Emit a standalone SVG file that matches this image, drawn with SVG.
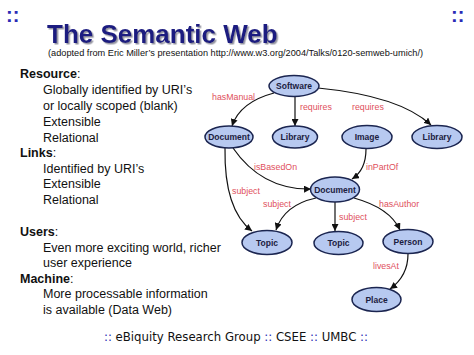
<svg xmlns="http://www.w3.org/2000/svg" width="474" height="355" viewBox="0 0 474 355">
<defs>
<marker id="ah" viewBox="0 0 10 10" refX="10" refY="5" markerWidth="7" markerHeight="7" markerUnits="userSpaceOnUse" orient="auto">
<path d="M0,0 L10,5 L0,10 z" fill="#111"/>
</marker>
<filter id="sh" x="-5%" y="-20%" width="115%" height="150%">
<feDropShadow dx="1.5" dy="1.5" stdDeviation="0.4" flood-color="#8a8a98" flood-opacity="0.9"/>
</filter>
</defs>
<style>
.dots{font-family:"Liberation Sans",Arial,sans-serif;font-weight:bold;font-size:20px;fill:#2a2ab5}
.title{font-family:"Liberation Sans",Arial,sans-serif;font-weight:bold;font-size:26px;fill:#1c1c80;filter:url(#sh)}
.sub{font-family:"Liberation Sans",Arial,sans-serif;font-size:8.6px;fill:#111}
.body{font-family:"Liberation Sans",Arial,sans-serif;font-size:12.5px;fill:#111}
.hd{font-weight:bold}
.foot{font-family:"DejaVu Sans",Verdana,sans-serif;font-size:11.5px;fill:#111}
.fc{fill:#2a2ab5}
.node ellipse{fill:#b7c9f0;stroke:#1b2550;stroke-width:1.5}
.node text{font-family:"Liberation Sans",Arial,sans-serif;font-weight:bold;font-size:8.5px;fill:#1b2040;text-anchor:middle}
.edge{fill:none;stroke:#111;stroke-width:1.2;marker-end:url(#ah)}
.lbl{font-family:"Liberation Sans",Arial,sans-serif;font-size:8.8px;fill:#e0505c}
</style>
<rect width="474" height="355" fill="#fff"/>
<text class="dots" x="6" y="22">::</text>
<text class="dots" x="451" y="22">::</text>
<text class="title" x="47" y="42.5">The Semantic Web</text>
<text class="sub" x="48" y="56" textLength="375" lengthAdjust="spacingAndGlyphs">(adopted from Eric Miller’s presentation http://www.w3.org/2004/Talks/0120-semweb-umich/)</text>
<g class="body">
<text x="20" y="78"><tspan class="hd">Resource</tspan>:</text>
<text x="43" y="94">Globally identified by URI’s</text>
<text x="43" y="110">or locally scoped (blank)</text>
<text x="43" y="126">Extensible</text>
<text x="43" y="141.5">Relational</text>
<text x="20" y="157"><tspan class="hd">Links</tspan>:</text>
<text x="43" y="172.5">Identified by URI’s</text>
<text x="43" y="188">Extensible</text>
<text x="43" y="204">Relational</text>
<text x="20" y="235.5"><tspan class="hd">Users</tspan>:</text>
<text x="43" y="251.5">Even more exciting world, richer</text>
<text x="43" y="267">user experience</text>
<text x="20" y="282.5"><tspan class="hd">Machine</tspan>:</text>
<text x="43" y="298">More processable information</text>
<text x="43" y="313.5">is available (Data Web)</text>
</g>
<text class="foot" x="104" y="341" textLength="264" lengthAdjust="spacingAndGlyphs"><tspan class="fc">::</tspan> eBiquity Research Group <tspan class="fc">::</tspan> CSEE <tspan class="fc">::</tspan> UMBC <tspan class="fc">::</tspan></text>
<g id="connectors">
<path class="edge" d="M274,93 Q240,102 232,126"/>
<path class="edge" d="M295,97 L295,126"/>
<path class="edge" d="M318,88 Q400,96 431,125"/>
<path class="edge" d="M225,148 Q224,210 252,231"/>
<path class="edge" d="M233,148 Q262,190 311,189"/>
<path class="edge" d="M366,149 Q366,170 352,179"/>
<path class="edge" d="M316,198 Q284,205 276,230"/>
<path class="edge" d="M335,201 L335,231"/>
<path class="edge" d="M354,198 Q390,208 400,230"/>
<path class="edge" d="M408,254 Q408,276 390,289"/>
<text class="lbl" x="212" y="100">hasManual</text>
<text class="lbl" x="300" y="110">requires</text>
<text class="lbl" x="352" y="110">requires</text>
<text class="lbl" x="254" y="170">isBasedOn</text>
<text class="lbl" x="366" y="170">inPartOf</text>
<text class="lbl" x="232" y="194">subject</text>
<text class="lbl" x="263" y="207">subject</text>
<text class="lbl" x="379" y="207">hasAuthor</text>
<text class="lbl" x="339" y="220">subject</text>
<text class="lbl" x="373" y="269">livesAt</text>
</g>
<g id="software" class="node"><ellipse cx="294" cy="86" rx="25" ry="10.5"/><text x="294" y="89">Software</text></g>
<g id="document1" class="node"><ellipse cx="229" cy="137" rx="24" ry="11"/><text x="229" y="140">Document</text></g>
<g id="library1" class="node"><ellipse cx="295" cy="137" rx="22.5" ry="11"/><text x="295" y="140">Library</text></g>
<g id="image" class="node"><ellipse cx="367" cy="137" rx="25" ry="11.5"/><text x="367" y="140">Image</text></g>
<g id="library2" class="node"><ellipse cx="437" cy="137" rx="25" ry="11.5"/><text x="437" y="140">Library</text></g>
<g id="document2" class="node"><ellipse cx="335" cy="189.5" rx="24.5" ry="12.5"/><text x="335" y="192.5">Document</text></g>
<g id="topic1" class="node"><ellipse cx="267" cy="242.5" rx="25" ry="12"/><text x="267" y="245.5">Topic</text></g>
<g id="topic2" class="node"><ellipse cx="338.5" cy="243" rx="24.5" ry="11.5"/><text x="338.5" y="246">Topic</text></g>
<g id="person" class="node"><ellipse cx="408" cy="241.5" rx="25" ry="12"/><text x="408" y="244.5">Person</text></g>
<g id="place" class="node"><ellipse cx="376.5" cy="299.5" rx="24.5" ry="12"/><text x="376.5" y="302.5">Place</text></g>
</svg>
